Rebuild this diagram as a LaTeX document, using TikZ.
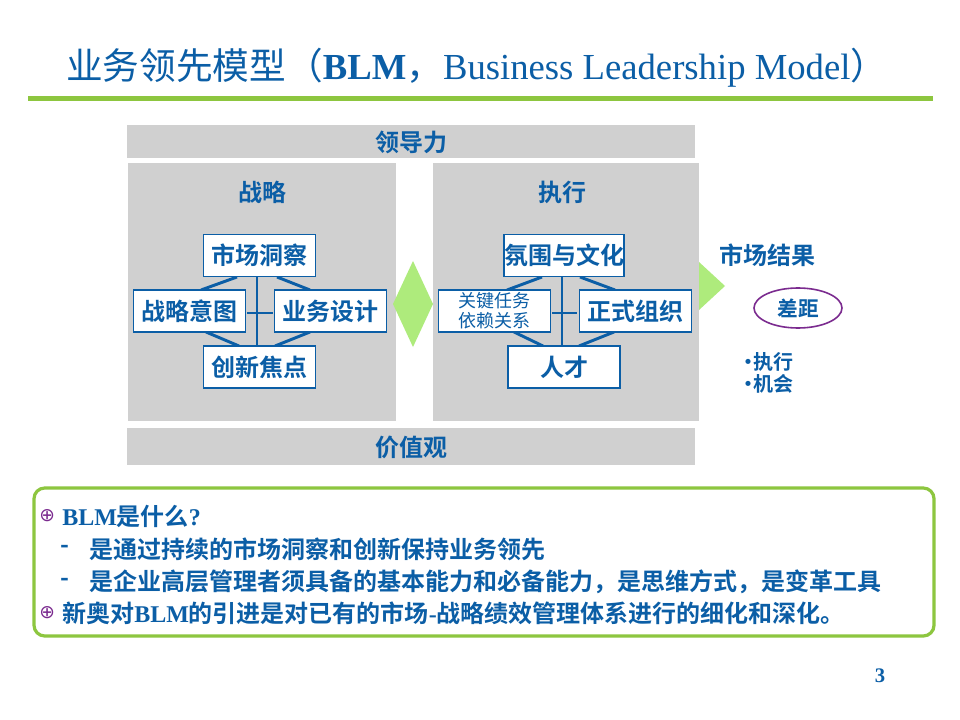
\documentclass[tikz,border=0pt]{standalone}
\usepackage{fontspec}
\usetikzlibrary{shapes.geometric}
\setmainfont{Liberation Serif}
\newfontfamily\cjk{Noto Sans CJK SC}[BoldFont={* Bold}]
\newfontfamily\dejavu{DejaVu Sans}
\definecolor{tblue}{HTML}{0B5EA6}
\definecolor{bgray}{HTML}{D0D0D0}
\definecolor{lgreen}{HTML}{AEEB7C}
\definecolor{bgreen}{HTML}{8DC63F}
\definecolor{purp}{HTML}{7B2B8F}
\tikzset{
 cbox/.style={draw=tblue,line width=1.2pt,fill=white,minimum width=84pt,minimum height=31.5pt,inner sep=0pt,font=\cjk\bfseries\fontsize{18}{20}\selectfont,text=tblue},
 conn/.style={draw=tblue,line width=2.2pt},
 graybar/.style={fill=bgray,draw=none},
 txt/.style={text=tblue,font=\cjk\bfseries\fontsize{18}{20}\selectfont,inner sep=0pt},
}
\begin{document}
\begin{tikzpicture}[x=0.75pt,y=-0.75pt]
\useasboundingbox (0,0) rectangle (960,720);
\fill[white] (0,0) rectangle (960,720);
% title
\node[anchor=west,text=tblue,inner sep=0pt] (title) at (66,68) {{\cjk\fontsize{27.5}{30}\selectfont 业务领先模型（}{\fontsize{27.5}{30}\selectfont\textbf{BLM}}{\cjk\fontsize{27.5}{30}\selectfont ，}{\fontsize{27.5}{30}\selectfont Business Leadership Model}{\cjk\fontsize{27.5}{30}\selectfont ）}};
\fill[bgreen] (28,96) rectangle (933,101);
% bars and panels
\fill[graybar] (127,125) rectangle (695,158);
\node[txt] (ldl) at (411,142) {领导力};
\fill[graybar] (128,163) rectangle (396,421);
\fill[graybar] (433,163) rectangle (699,421);
\fill[graybar] (127,428) rectangle (695,465);
\node[txt] (jzg) at (411,447) {价值观};
\node[txt] (zl) at (262,192) {战略};
\node[txt] (zx) at (562,192) {执行};
% left connectors
\draw[conn] (257,277) -- (257,346);
\draw[conn] (247,313) -- (273,313);
\draw[conn] (237,277) -- (201,290);
\draw[conn] (277,277) -- (310,290);
\draw[conn] (206,332) -- (239,346);
\draw[conn] (310,332) -- (275,346);
% right connectors
\draw[conn] (562,277) -- (562,346);
\draw[conn] (552,313) -- (577,313);
\draw[conn] (542,277) -- (507,290);
\draw[conn] (580,277) -- (615,290);
\draw[conn] (514,332) -- (543,346);
\draw[conn] (614,332) -- (579,346);
% boxes
\node[cbox] (sc) at (259.5,255.5) {市场洞察};
\node[cbox] (zlyt) at (189.5,311) {战略意图};
\node[cbox] (ywsj) at (330.5,311) {业务设计};
\node[cbox] (cxjd) at (259.5,367) {创新焦点};
\node[cbox] (fw) at (564,255.5) {氛围与文化};
\node[cbox,font=\cjk\fontsize{13.5}{15}\selectfont,align=center] (gj) at (494.5,311) {关键任务\\依赖关系};
\node[cbox] (zs) at (635.5,311) {正式组织};
\node[cbox] (rc) at (564,367) {人才};
% diamond and arrow
\fill[lgreen] (413,261) -- (433,304) -- (413,347) -- (393,304) -- cycle;
\fill[lgreen] (699,262) -- (725,286) -- (699,310) -- cycle;
\node[txt] (scjg) at (767,255) {市场结果};
\node[draw=purp,line width=1.2pt,ellipse,minimum width=66pt,minimum height=30pt,txt,font=\cjk\bfseries\fontsize{15.5}{17}\selectfont] (cj) at (798,308) {差距};
\node[txt,anchor=west,font=\cjk\bfseries\fontsize{15}{17}\selectfont] (b1) at (738,362) {•\hspace{-0.25em}执行};
\node[txt,anchor=west,font=\cjk\bfseries\fontsize{15}{17}\selectfont] (b2) at (738,384) {•\hspace{-0.25em}机会};
% bottom box
\draw[draw=bgreen,line width=2.4pt,fill=white,rounded corners=8pt] (34,488) rectangle (934,636);
\node[anchor=west,inner sep=0pt,text=purp,font=\dejavu\fontsize{14}{15}\selectfont] (s1) at (39,516) {⊕};
\node[anchor=west,txt] (l1) at (62,516) {{\rmfamily\bfseries BLM}是什么{\rmfamily\bfseries ?}};
\node[anchor=west,txt] (d1) at (60,549) {-};
\node[anchor=west,txt] (l2) at (89,549) {是通过持续的市场洞察和创新保持业务领先};
\node[anchor=west,txt] (d2) at (60,582) {-};
\node[anchor=west,txt] (l3) at (89,582) {是企业高层管理者须具备的基本能力和必备能力，是思维方式，是变革工具};
\node[anchor=west,inner sep=0pt,text=purp,font=\dejavu\fontsize{14}{15}\selectfont] (s2) at (39,613) {⊕};
\node[anchor=west,txt] (l4) at (62,613) {新奥对{\rmfamily\bfseries BLM}的引进是对已有的市场{\rmfamily\bfseries -}战略绩效管理体系进行的细化和深化。};
\node[text=tblue,font=\bfseries\fontsize{15.5}{17}\selectfont] (pg) at (880,676) {3};
\end{tikzpicture}
\end{document}
